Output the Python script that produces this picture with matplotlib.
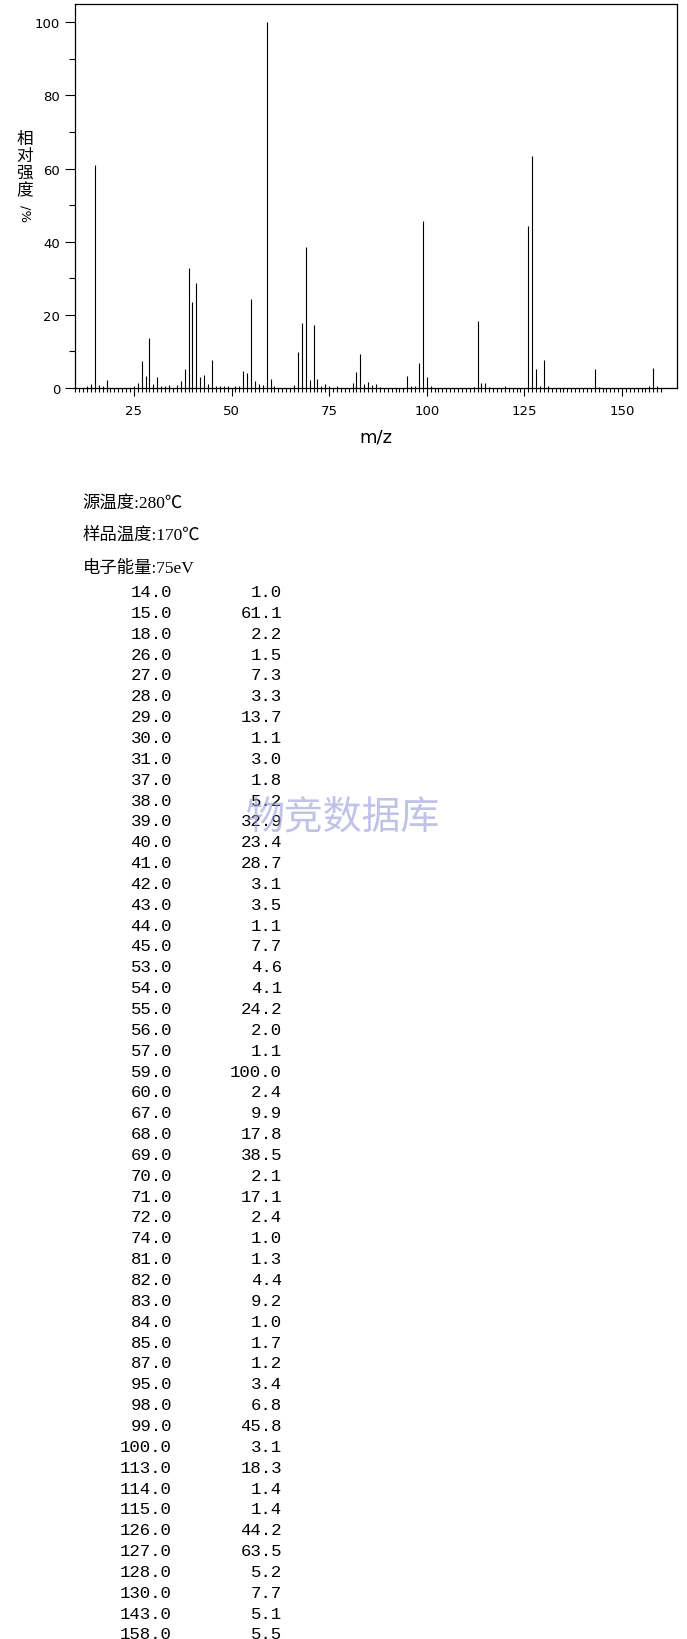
import matplotlib.pyplot as plt
from matplotlib.ticker import MultipleLocator

# peak table (m/z, relative intensity)
mz = [14, 15, 18, 26, 27, 28, 29, 30, 31, 37, 38, 39, 40, 41, 42, 43, 44, 45,
      53, 54, 55, 56, 57, 59, 60, 67, 68, 69, 70, 71, 72, 74, 81, 82, 83, 84,
      85, 87, 95, 98, 99, 100, 113, 114, 115, 126, 127, 128, 130, 143, 158]
intensity = [1.0, 61.1, 2.2, 1.5, 7.3, 3.3, 13.7, 1.1, 3.0, 1.8, 5.2, 32.9,
             23.4, 28.7, 3.1, 3.5, 1.1, 7.7, 4.6, 4.1, 24.2, 2.0, 1.1, 100.0,
             2.4, 9.9, 17.8, 38.5, 2.1, 17.1, 2.4, 1.0, 1.3, 4.4, 9.2, 1.0,
             1.7, 1.2, 3.4, 6.8, 45.8, 3.1, 18.3, 1.4, 1.4, 44.2, 63.5, 5.2,
             7.7, 5.1, 5.5]

# small peaks visible in the spectrum but not listed in the table
minor_mz = [13, 16, 17, 25, 32, 33, 34, 36, 46, 47, 48, 49, 51, 52, 58, 61,
            66, 73, 75, 77, 86, 88, 96, 97, 101, 112, 116, 120, 129, 131, 144,
            157, 159]
minor_int = [0.6, 0.8, 0.6, 0.6, 0.5, 0.5, 0.7, 0.7, 0.5, 0.5, 0.5, 0.5, 0.5,
             0.5, 0.9, 0.6, 0.9, 0.6, 0.6, 0.5, 0.7, 0.4, 0.6, 0.6, 0.6, 0.4,
             0.4, 0.5, 0.6, 0.6, 0.4, 0.5, 0.6]

header = ['源温度:280℃', '样品温度:170℃', '电子能量:75eV']

W, H = 687, 1640
fig = plt.figure(figsize=(W / 100, H / 100), dpi=100)

def fx(px):
    return px / W

def fy(py):
    return 1 - py / H

# spectrum axes
ax = fig.add_axes([fx(75.3), fy(389), fx(676.7 - 75.3), (389 - 5) / H])
ax.vlines(mz, 0, intensity, color='black', lw=0.8)
ax.vlines(minor_mz, 0, minor_int, color='black', lw=0.8)
ax.set_xlim(10, 164)
ax.set_ylim(0, 105)

for s in ax.spines.values():
    s.set_linewidth(0.9)

ax.yaxis.set_major_locator(MultipleLocator(20))
ax.yaxis.set_minor_locator(MultipleLocator(10))
ax.set_xticks([25, 50, 75, 100, 125, 150])
ax.set_xticks(range(10, 161), minor=True)

ax.tick_params(axis='x', which='major', direction='out', length=5.5, width=0.8,
               pad=6, labelsize=9.5)
ax.tick_params(axis='x', which='minor', direction='out', length=3, width=0.8)
ax.tick_params(axis='y', which='major', direction='out', length=7.5, width=0.8,
               pad=3.5, labelsize=9.5)
ax.tick_params(axis='y', which='minor', direction='out', length=4, width=0.8)

fig.text(fx(376), fy(438), 'm/z', ha='center', va='center', fontsize=13,
         family='DejaVu Sans')

# vertical y label: upright CJK, rotated "/%"
fig.text(fx(25), fy(131), '相\n对\n强\n度', ha='center', va='top',
         fontsize=12, family=['Noto Sans CJK SC', 'DejaVu Sans'],
         linespacing=1.0)
fig.text(fx(25), fy(214), '/%', ha='center', va='center', rotation=-90,
         fontsize=9.5, family='DejaVu Sans')

# header lines
head_y = [505, 536, 569]
for t, y in zip(header, head_y):
    fig.text(fx(82.7), fy(y), t, ha='left', va='center', fontsize=12.5,
             family=['Liberation Serif', 'Noto Sans CJK SC'])

# peak table
row0, step = 591.7, 20.85
for i, (m, v) in enumerate(zip(mz, intensity)):
    y = row0 + i * step + 5.3
    fig.text(fx(172), fy(y), f'{m:.1f}', ha='right', va='baseline',
             fontsize=12.5, family='Liberation Mono')
    fig.text(fx(282), fy(y), f'{v:.1f}', ha='right', va='baseline',
             fontsize=12.5, family='Liberation Mono')

# watermark
fig.text(fx(343), fy(819), '物竞数据库', ha='center', va='center', fontsize=28,
         family='Noto Sans CJK SC', color='#9a9ad8', alpha=0.6, zorder=10)

fig.savefig('out.png', dpi=100)
